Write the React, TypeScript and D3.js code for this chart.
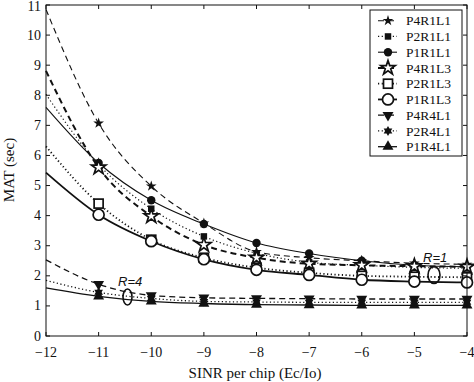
import React from "react";
import * as d3 from "d3";

const xs = [-12, -11, -10, -9, -8, -7, -6, -5, -4];
const xTicks = [-12, -11, -10, -9, -8, -7, -6, -5, -4];
const yTicks = [0, 1, 2, 3, 4, 5, 6, 7, 8, 9, 10, 11];

const seriesNames = ["P4R1L1", "P2R1L1", "P1R1L1", "P4R1L3", "P2R1L3", "P1R1L3", "P4R4L1", "P2R4L1", "P1R4L1"];

const P4R1L1 = [10.85, 7.07, 4.98, 3.75, 2.8, 2.6, 2.5, 2.42, 2.38];
const P2R1L1 = [8.03, 5.7, 4.23, 3.31, 2.75, 2.45, 2.35, 2.28, 2.25];
const P1R1L1 = [7.6, 5.75, 4.51, 3.72, 3.09, 2.74, 2.5, 2.35, 2.3];
const P4R1L3 = [8.81, 5.6, 3.98, 3.03, 2.6, 2.4, 2.35, 2.32, 2.3];
const P2R1L3 = [6.3, 4.4, 3.2, 2.6, 2.27, 2.1, 2.0, 1.97, 1.95];
const P1R1L3 = [5.43, 4.03, 3.15, 2.55, 2.2, 2.03, 1.87, 1.81, 1.78];
const P4R4L1 = [2.53, 1.72, 1.35, 1.27, 1.25, 1.24, 1.23, 1.23, 1.23];
const P2R4L1 = [1.85, 1.45, 1.25, 1.15, 1.13, 1.12, 1.12, 1.12, 1.12];
const P1R4L1 = [1.6, 1.32, 1.15, 1.08, 1.04, 1.03, 1.02, 1.02, 1.02];

const seriesValues = [P4R1L1, P2R1L1, P1R1L1, P4R1L3, P2R1L3, P1R1L3, P4R4L1, P2R4L1, P1R4L1];

type Style = { dash: string; width: number; marker: string };
const styles: Style[] = [
  { dash: "6,4", width: 1.1, marker: "star" },
  { dash: "1.2,2.5", width: 1.2, marker: "square" },
  { dash: "", width: 1.1, marker: "circle" },
  { dash: "6,4", width: 2, marker: "openstar" },
  { dash: "1.2,2.5", width: 1.8, marker: "opensquare" },
  { dash: "", width: 1.8, marker: "opencircle" },
  { dash: "6,4", width: 1.3, marker: "tridown" },
  { dash: "1.2,2.5", width: 1.3, marker: "hexstar" },
  { dash: "", width: 1.3, marker: "triup" },
];

const W = 474, H = 382;
const M = { left: 46, right: 467, top: 5, bottom: 336 };

const FONT = "'Liberation Serif', 'Times New Roman', serif";

function hexPath(r: number) {
  const pts: string[] = [];
  for (let i = 0; i < 12; i++) {
    const a = (Math.PI / 6) * i - Math.PI / 2;
    const rr = i % 2 === 0 ? r : r * 0.58;
    pts.push(`${(rr * Math.cos(a)).toFixed(2)},${(rr * Math.sin(a)).toFixed(2)}`);
  }
  return "M" + pts.join("L") + "Z";
}

function Marker({ type, x, y }: { type: string; x: number; y: number }) {
  const t = `translate(${x},${y})`;
  switch (type) {
    case "star":
      return <path transform={t} d={d3.symbol(d3.symbolStar, 36)()!} fill="#111" />;
    case "square":
      return <path transform={t} d={d3.symbol(d3.symbolSquare, 42)()!} fill="#111" />;
    case "circle":
      return <circle cx={x} cy={y} r={4.2} fill="#111" />;
    case "openstar":
      return <path transform={t} d={d3.symbol(d3.symbolStar, 64)()!} fill="#fff" stroke="#111" strokeWidth={1.7} />;
    case "opensquare":
      return <rect x={x - 4.5} y={y - 4.5} width={9} height={9} fill="#fff" stroke="#111" strokeWidth={1.7} />;
    case "opencircle":
      return <circle cx={x} cy={y} r={5.5} fill="#fff" stroke="#111" strokeWidth={1.7} />;
    case "tridown":
      return <path transform={`${t} rotate(180)`} d={d3.symbol(d3.symbolTriangle, 52)()!} fill="#111" />;
    case "hexstar":
      return <path transform={t} d={hexPath(5)} fill="#111" />;
    case "triup":
      return <path transform={t} d={d3.symbol(d3.symbolTriangle, 52)()!} fill="#111" />;
  }
  return null;
}

export default function App() {
  const x = d3.scaleLinear().domain([-12, -4]).range([M.left, M.right]);
  const y = d3.scaleLinear().domain([0, 11]).range([M.bottom, M.top]);
  const line = d3
    .line<number>()
    .x((_, i) => x(xs[i]))
    .y((d) => y(d))
    .curve(d3.curveMonotoneX);

  const legX = 370, legY = 10, legW = 92, legH = 146, rowH = 15.75;

  return (
    <svg width={W} height={H} style={{ position: "absolute", left: 0, top: 0, background: "#fff" }} fontFamily={FONT}>
      <rect x={0} y={0} width={W} height={H} fill="#fff" />
      {seriesValues.map((vals, si) => (
        <path
          key={"l" + si}
          d={line(vals)!}
          fill="none"
          stroke="#111"
          strokeWidth={styles[si].width}
          strokeDasharray={styles[si].dash || undefined}
        />
      ))}
      {seriesValues.map((vals, si) =>
        vals.map((v, i) =>
          i === 0 ? null : <Marker key={`m${si}-${i}`} type={styles[si].marker} x={x(xs[i])} y={y(v)} />
        )
      )}
      <text x={423} y={262} fontFamily="'Liberation Sans', Arial, sans-serif" fontStyle="italic" fontSize={13} fill="#111">R=1</text>
      <ellipse cx={434} cy={275} rx={6} ry={8.5} fill="none" stroke="#111" strokeWidth={1.6} />
      <text x={118} y={286} fontFamily="'Liberation Sans', Arial, sans-serif" fontStyle="italic" fontSize={13} fill="#111">R=4</text>
      <ellipse cx={127.5} cy={297} rx={4.5} ry={8} fill="none" stroke="#111" strokeWidth={1.6} />

      <rect x={M.left} y={M.top} width={M.right - M.left} height={M.bottom - M.top} fill="none" stroke="#111" strokeWidth={1} />
      {xTicks.map((t) => (
        <g key={"xt" + t}>
          <line x1={x(t)} x2={x(t)} y1={M.bottom} y2={M.bottom - 4} stroke="#111" />
          <line x1={x(t)} x2={x(t)} y1={M.top} y2={M.top + 4} stroke="#111" />
          <text x={x(t)} y={357} textAnchor="middle" fontSize={14} fill="#111">
            {t < 0 ? "\u2212" + Math.abs(t) : String(t)}
          </text>
        </g>
      ))}
      {yTicks.map((t) => (
        <g key={"yt" + t}>
          <line x1={M.left} x2={M.left + 4} y1={y(t)} y2={y(t)} stroke="#111" />
          <line x1={M.right} x2={M.right - 4} y1={y(t)} y2={y(t)} stroke="#111" />
          <text x={41} y={Math.max(y(t) + 4.5, 10.5)} textAnchor="end" fontSize={14} fill="#111">
            {t}
          </text>
        </g>
      ))}
      <text x={255} y={378} textAnchor="middle" fontSize={15} fill="#111">SINR per chip (Ec/Io)</text>
      <text transform={`translate(14,${170}) rotate(-90)`} textAnchor="middle" fontSize={15} fill="#111">MAT (sec)</text>

      <rect x={legX} y={legY} width={legW} height={legH} fill="#fff" stroke="#111" strokeWidth={1} />
      {seriesNames.map((n, i) => {
        const cy = legY + 10.7 + i * rowH;
        return (
          <g key={"lg" + i}>
            <line
              x1={378}
              x2={397}
              y1={cy}
              y2={cy}
              stroke="#111"
              strokeWidth={styles[i].width}
              strokeDasharray={styles[i].dash || undefined}
            />
            <Marker type={styles[i].marker} x={388} y={cy} />
            <text x={406} y={cy + 4.7} fontSize={13.5} fill="#111">{n}</text>
          </g>
        );
      })}
    </svg>
  );
}
